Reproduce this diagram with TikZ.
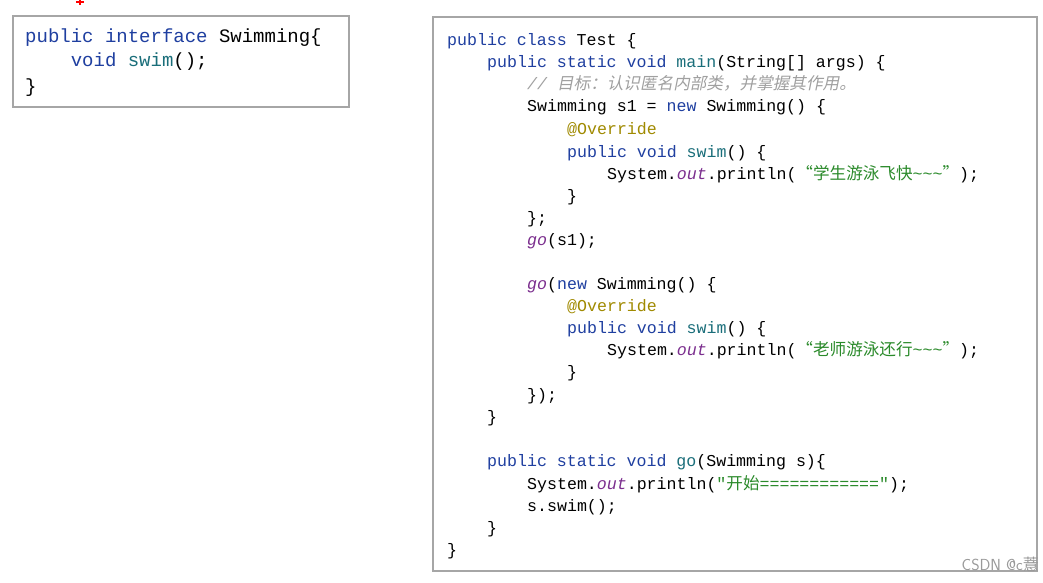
\documentclass[tikz,border=0pt]{standalone}
\usepackage{fontspec}
\setmonofont{Liberation Mono}
\newfontfamily\cjk{Noto Sans CJK SC}
\newfontfamily\cjkit{Noto Sans CJK SC}[FakeSlant=0.2]
\definecolor{kwc}{HTML}{1F3FA0}
\definecolor{mtc}{HTML}{1A6E7A}
\definecolor{ouc}{HTML}{7B2E8E}
\definecolor{stc}{HTML}{2A8A2A}
\definecolor{anc}{HTML}{A08A00}
\definecolor{cmc}{HTML}{A0A0A0}
\newcommand\kw[1]{\textcolor{kwc}{#1}}
\newcommand\mt[1]{\textcolor{mtc}{#1}}
\newcommand\ou[1]{\textcolor{ouc}{\itshape #1}}
\newcommand\stc[1]{\textcolor{stc}{#1}}
\newcommand\tl{\string~}
\begin{document}
\begin{tikzpicture}[x=1pt,y=-1pt,
  box/.style={draw=black!35,line width=2pt,fill=white},
  code/.style={anchor=base west,inner sep=0,font=\ttfamily\fontsize{16.6}{20}\selectfont},
  codeL/.style={anchor=base west,inner sep=0,font=\ttfamily\fontsize{19}{22}\selectfont}]
\useasboundingbox (0,0) rectangle (1043,583);
\fill[white] (0,0) rectangle (1043,583);
\draw[red,line width=2pt] (80,0) -- (80,5) (76,2) -- (84,2);
\node[box,minimum width=336,minimum height=91,inner sep=0,anchor=north west] (L) at (12,15) {};
\node[codeL] (l1) at (25,43) {\kw{public} \kw{interface} Swimming\{};
\node[codeL] (l2) at (25,67) {\phantom{xxxx}\kw{void} \mt{swim}();};
\node[codeL] (l3) at (25,93) {\}};
\node[box,minimum width=604,minimum height=554,inner sep=0,anchor=north west] (R) at (432,16) {};
\foreach \y/\i/\t [count=\n] in {
 41/0/{\kw{public} \kw{class} Test \{},
 63/1/{\kw{public} \kw{static} \kw{void} \mt{main}(String[] args) \{},
 85/2/{\textcolor{cmc}{\itshape // {\cjkit 目标：认识匿名内部类，并掌握其作用。}}},
 107/2/{Swimming s1 = \kw{new} Swimming() \{},
 129/3/{\textcolor{anc}{@Override}},
 152/3/{\kw{public} \kw{void} \mt{swim}() \{},
 174/4/{System.\ou{out}.println(\stc{{\cjk “学生游泳飞快}\tl\tl\tl{\cjk ”}});},
 196/3/{\}},
 218/2/{\};},
 240/2/{\ou{go}(s1);},
 284/2/{\ou{go}(\kw{new} Swimming() \{},
 306/3/{\textcolor{anc}{@Override}},
 328/3/{\kw{public} \kw{void} \mt{swim}() \{},
 350/4/{System.\ou{out}.println(\stc{{\cjk “老师游泳还行}\tl\tl\tl{\cjk ”}});},
 372/3/{\}},
 395/2/{\});},
 417/1/{\}},
 461/1/{\kw{public} \kw{static} \kw{void} \mt{go}(Swimming s)\{},
 484/2/{System.\ou{out}.println(\stc{"{\cjk 开始}============"});},
 506/2/{s.swim();},
 528/1/{\}},
 550/0/{\}}}
 \node[code] (c\n) at (447+40*\i,\y+5) {\t};
\node[anchor=base east,inner sep=0,text=black!40,font=\sffamily\fontsize{16}{18}\selectfont] (wm) at (1039,570) {CSDN @c{\cjk 薏}};
\end{tikzpicture}
\end{document}
